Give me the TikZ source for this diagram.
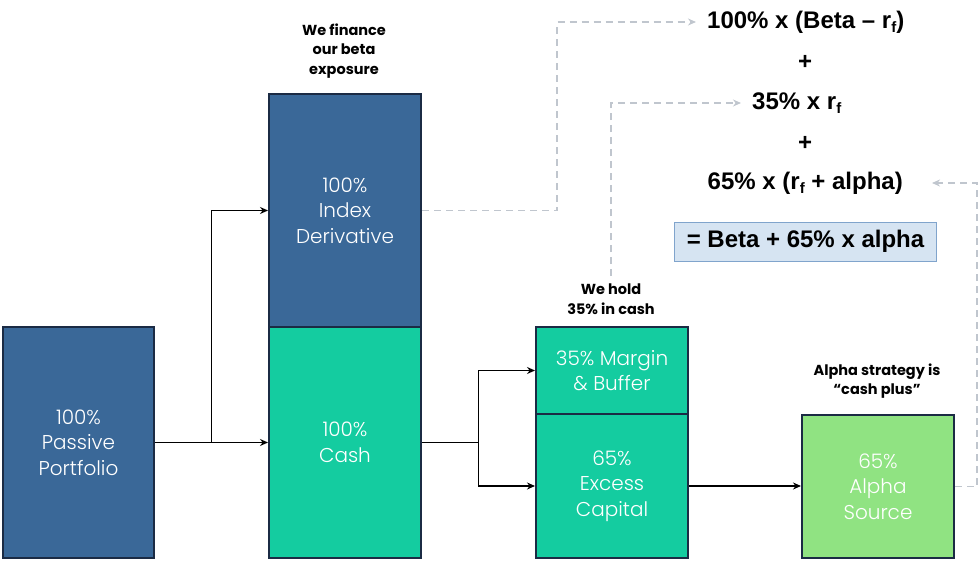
\documentclass[tikz,border=0pt]{standalone}
\usepackage{fontspec}
\usetikzlibrary{arrows.meta,calc}
\setmainfont{Poppins}
\newfontfamily\lightfont{Poppins Light}
\newfontfamily\eqfont{Liberation Sans}
\newcommand\subf{\raisebox{-0.35ex}{\fontsize{15pt}{15pt}\selectfont f}}
\definecolor{dblue}{HTML}{3A6898}
\definecolor{teal}{HTML}{14CCA0}
\definecolor{lgreen}{HTML}{90E382}
\definecolor{navy}{HTML}{1B2B44}
\definecolor{dgray}{HTML}{C0C6CE}
\definecolor{eqfill}{HTML}{D6E4F2}
\definecolor{eqdraw}{HTML}{80A4CC}
\tikzset{
  blockbox/.style={draw=navy,line width=2pt,anchor=north west,inner sep=0pt,
    text=white,align=center,font=\lightfont\fontsize{20pt}{25.5pt}\selectfont},
  lbl/.style={align=center,font=\bfseries\fontsize{14.5pt}{19.5pt}\selectfont,inner sep=0pt},
  eq/.style={font=\eqfont\bfseries\fontsize{24pt}{28pt}\selectfont,inner sep=0pt},
  arr/.style={line width=1.8pt,-{Stealth[length=8pt,width=7pt]}},
  plain/.style={line width=1.8pt},
  darr/.style={line width=1.7pt,dgray,dash pattern=on 7pt off 5pt,-{Stealth[length=8pt,width=7pt]}},
}
\begin{document}
\begin{tikzpicture}[x=1pt,y=-1pt]
\useasboundingbox (0,0) rectangle (980,562);
% blocks
\node[blockbox,fill=dblue,minimum width=151pt,minimum height=231pt] (pp) at (2,326) {100\%\\Passive\\Portfolio};
\node[blockbox,fill=dblue,minimum width=152pt,minimum height=233pt] (idx) at (268,93) {100\%\\Index\\Derivative};
\node[blockbox,fill=teal,minimum width=152pt,minimum height=231pt] (cash) at (268,326) {100\%\\Cash};
\node[blockbox,fill=teal,minimum width=152pt,minimum height=87pt] (margin) at (535,326) {35\% Margin\\\& Buffer};
\node[blockbox,fill=teal,minimum width=152pt,minimum height=144pt] (excess) at (535,413) {65\%\\Excess\\Capital};
\node[blockbox,fill=lgreen,minimum width=152pt,minimum height=143pt] (alpha) at (801,414) {65\%\\Alpha\\Source};
% labels
\node[lbl] (fin) at (344,51) {We finance\\our beta\\exposure};
\node[lbl] (hold) at (611,299) {We hold\\35\% in cash};
\node[lbl] (strat) at (877,381) {Alpha strategy is\\“cash plus”};
% equations
\node[eq,anchor=west] (f1) at (707,22) {100\% x (Beta – r\subf)};
\node[eq] (p1) at (805,62) {+};
\node[eq,anchor=west] (f2) at (752,103) {35\% x r\subf};
\node[eq] (p2) at (805,143) {+};
\node[eq,anchor=east] (f3) at (903,183) {65\% x (r\subf{} + alpha)};
\node[eq,draw=eqdraw,fill=eqfill,line width=1pt,minimum width=262pt,minimum height=39pt] (res) at (805.5,241.5) {= Beta + 65\% x alpha};
% solid connectors
\draw[arr] (pp.east) -- (cash.west);
\coordinate (j1) at ($(pp.east)!0.5!(cash.west)$);
\draw[arr] (j1) |- (idx.west);
\coordinate (j2) at ($(cash.east)!0.5!(cash.east -| margin.west)$);
\draw[plain] (cash.east) -- (j2);
\draw[arr] (j2) |- (margin.west);
\draw[arr] (j2) |- (excess.west);
\draw[arr] (excess.east) -- (excess.east -| alpha.west);
% dashed connectors
\coordinate (k1) at (557,0);
\draw[darr] (idx.east) -- (idx.east -| k1) |- ($(f1.west)+(-11,0)$);
\coordinate (s2) at (611,276);
\draw[darr] (s2) |- ($(f2.west)+(-11,0)$);
\coordinate (k3) at (977,0);
\draw[darr] (alpha.east) -- (alpha.east -| k3) |- ($(f3.east)+(29,0)$);
\end{tikzpicture}
\end{document}
